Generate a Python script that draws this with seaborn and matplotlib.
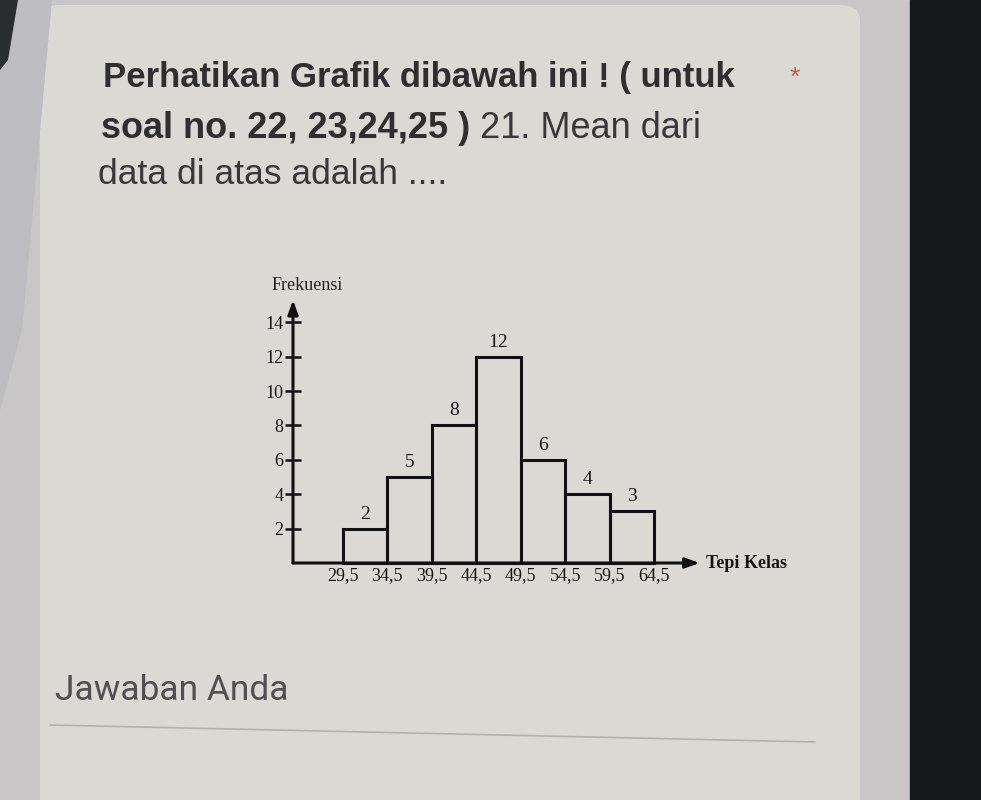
import numpy as np
import pandas as pd
import seaborn as sns
import matplotlib.pyplot as plt
from matplotlib.patches import Polygon, FancyBboxPatch, Rectangle
from matplotlib.lines import Line2D

# data
class_edges = [29.5, 34.5, 39.5, 44.5, 49.5, 54.5, 59.5, 64.5]
edge_labels = ["29,5", "34,5", "39,5", "44,5", "49,5", "54,5", "59,5", "64,5"]
mid_points = [32, 37, 42, 47, 52, 57, 62]
frekuensi = [2, 5, 8, 12, 6, 4, 3]
y_ticks = [2, 4, 6, 8, 10, 12, 14]

W, H = 981, 800
SERIF = ["Liberation Serif", "DejaVu Serif"]


def px(x, y):
    # pixel position (from top-left) -> figure fraction
    return x / W, 1 - y / H


sns.set_theme(style="white")
plt.rcParams['font.family'] = ['Liberation Sans', 'DejaVu Sans']

fig = plt.figure(figsize=(W / 100, H / 100), dpi=100)
fig.patch.set_facecolor("#d9d8d3")

# photo background: outer strips and the form card
fig.patches.append(Rectangle(px(0, 800), 1, 1, transform=fig.transFigure,
                             color="#c9c6c8", zorder=-10))
fig.patches.append(FancyBboxPatch(px(40, 830), 820 / W, 825 / H,
                                  boxstyle="round,pad=0,rounding_size=0.02",
                                  transform=fig.transFigure, fc="#dad9d4",
                                  ec="none", zorder=-9))
fig.patches.append(Polygon([px(0, 0), px(52, 0), px(22, 330), px(0, 410)],
                           closed=True, transform=fig.transFigure,
                           fc="#bdbcc1", ec="none", zorder=-8))
fig.patches.append(Polygon([px(0, 0), px(18, 0), px(8, 60), px(0, 70)],
                           closed=True, transform=fig.transFigure,
                           fc="#2a2d30", ec="none", zorder=-7))
fig.patches.append(Rectangle(px(910, 800), 71 / W, 1, transform=fig.transFigure,
                             color="#16191b", zorder=-6))

# histogram
x0, x1 = 23.9, 72.0
ax = fig.add_axes([293 / W, 1 - 563 / H, (x1 - x0) * 8.9 / W, 16 * 17.2 / H])
ax.set_facecolor("none")
df = pd.DataFrame({"tengah": mid_points, "frekuensi": frekuensi})
sns.histplot(data=df, x="tengah", weights="frekuensi", bins=class_edges,
             fill=False, element="bars", color="#111111", linewidth=2.2,
             ax=ax)
for p in ax.patches:
    p.set_clip_on(False)
    p.set_edgecolor("#111111")

for m, f in zip(mid_points, frekuensi):
    ax.text(m, f + 0.35, str(f), ha="center", va="bottom", fontsize=14,
            family=SERIF, color="#151515")

ax.set_xlim(x0, x1)
ax.set_ylim(0, 16)
for s in ax.spines.values():
    s.set_visible(False)

arrow = dict(arrowstyle="-|>,head_length=0.7,head_width=0.25", color="#111111",
             lw=2.2, shrinkA=0, shrinkB=0)
ax.annotate("", xy=(69.6, 0), xytext=(x0, 0), arrowprops=arrow,
            annotation_clip=False)
ax.annotate("", xy=(x0, 15.3), xytext=(x0, 0), arrowprops=arrow,
            annotation_clip=False)

ax.set_xticks(class_edges)
ax.set_xticklabels(edge_labels, family=SERIF, fontsize=13, color="#151515")
ax.tick_params(axis="x", length=0, pad=3)
ax.set_yticks(y_ticks)
ax.set_yticklabels([str(v) for v in y_ticks], family=SERIF, fontsize=13,
                   color="#151515")
ax.tick_params(axis="y", left=True, direction="inout", length=12, width=1.8,
               color="#111111", pad=1)
ax.set_xlabel("")
ax.set_ylabel("")

ax.text(70.3, 0.0, "Tepi Kelas", ha="left", va="center", fontsize=13,
        fontweight="bold", family=SERIF, color="#151515")
fig.text(*px(272, 285), "Frekuensi", ha="left", va="center", fontsize=13,
         family=SERIF, color="#222222")

# question text
fig.text(*px(103, 78), "Perhatikan Grafik dibawah ini ! ( untuk",
         fontsize=25, fontweight="bold", color="#2f2f2f", va="center")
t2 = fig.text(*px(101, 128), "soal no. 22, 23,24,25 )",
              fontsize=26, fontweight="bold", color="#2f2f2f", va="center")
ax.annotate(" 21. Mean dari", xy=(1, 0), xycoords=t2, va="bottom",
            ha="left", fontsize=26, color="#383838", annotation_clip=False)
fig.text(*px(98, 175), "data di atas adalah ....", fontsize=25.5,
         color="#383838", va="center")
fig.text(*px(795, 78), "*", fontsize=19, color="#c45a5a", va="center",
         ha="center")

fig.text(*px(55, 690), "Jawaban Anda", fontsize=25.5, color="#505050",
         va="center", family=["Roboto", "DejaVu Sans"])
fig.add_artist(Line2D([50 / W, 815 / W], [1 - 725 / H, 1 - 742 / H],
                      transform=fig.transFigure, color="#b2b1ae", lw=1.2))

fig.savefig("out.png", dpi=100, facecolor=fig.get_facecolor())
